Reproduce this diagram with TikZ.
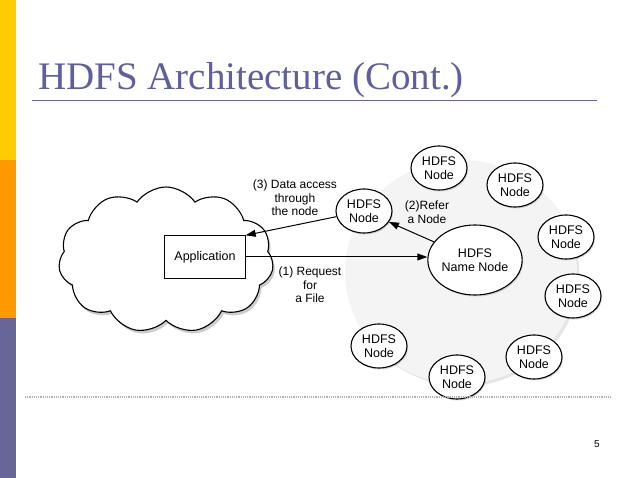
\documentclass[tikz,border=0pt]{standalone}
\usepackage{fontspec}
\setmainfont{Liberation Serif}
\newfontfamily\sansf{Liberation Sans}
\usetikzlibrary{shapes.symbols,shapes.geometric,shadows,arrows.meta}
\definecolor{bary}{HTML}{FFCC00}
\definecolor{baro}{HTML}{FF9900}
\definecolor{barp}{HTML}{666699}
\definecolor{ttl}{HTML}{5F5F9F}
\begin{document}
\begin{tikzpicture}[x=1pt,y=-1pt,
  dn/.style={ellipse,draw,line width=1.1pt,fill=white,minimum width=56pt,minimum height=44pt,inner sep=0pt,align=center,font=\sansf\fontsize{12.5}{14}\selectfont,drop shadow={opacity=0.3,shadow xshift=1pt,shadow yshift=-1.5pt}},
  lbl/.style={align=center,font=\sansf\fontsize{12}{13.5}\selectfont},
  arr/.style={line width=1pt,-{Triangle[length=10pt,width=7pt]}}]
\useasboundingbox (0,0) rectangle (638,478);
\fill[white] (0,0) rectangle (638,478);
\fill[bary] (0,0) rectangle (16,160);
\fill[baro] (0,160) rectangle (16,318);
\fill[barp] (0,318) rectangle (16,478);
\node[anchor=base west,text=ttl,font=\fontsize{39}{44}\selectfont,inner sep=0] (title) at (38,90) {HDFS Architecture (Cont.)};
\draw[barp,line width=1pt] (32,101) -- (597,101);
% big circle
\fill[gray!9,drop shadow={opacity=0.2}] (461,272) ellipse (116 and 112);
% cloud
\node[cloud,cloud puffs=11,cloud puff arc=110,aspect=1.5,draw,line width=1.1pt,fill=white,minimum width=215pt,minimum height=146pt,drop shadow={opacity=0.4,shadow xshift=2pt,shadow yshift=-3pt}] (cloud) at (166,260) {};
\node[draw,fill=white,minimum width=81pt,minimum height=43pt,font=\sansf\fontsize{12.5}{14}\selectfont] (app) at (205,257) {Application};
\node[dn] (n1) at (364,211) {HDFS\\Node};
\node[dn] (n2) at (439,168) {HDFS\\Node};
\node[dn] (n3) at (515,185) {HDFS\\Node};
\node[dn] (n4) at (566,237) {HDFS\\Node};
\node[dn] (n5) at (573,296) {HDFS\\Node};
\node[dn] (n6) at (534,357) {HDFS\\Node};
\node[dn] (n7) at (457,377) {HDFS\\Node};
\node[dn] (n8) at (379,346) {HDFS\\Node};
\node[dn,minimum width=90pt,minimum height=70pt] (nn) at (475,260) {HDFS\\Name Node};
\draw[arr] (app.east) -- (nn.west |- app.east);
\draw[arr] (nn) -- (n1);
\draw[arr] (n1) -- (app.north east);
\node[lbl] (l3) at (295,198) {(3) Data access\\through\\the node};
\node[lbl] (l1) at (310,285) {(1) Request\\for\\a File};
\node[lbl] (l2) at (427,212) {(2)Refer\\a Node};
\draw[gray!60,densely dotted,line width=1.2pt] (25,397) -- (612,397);
\node[font=\sansf\fontsize{10}{11}\selectfont] (pg) at (597,444) {5};
\end{tikzpicture}
\end{document}
